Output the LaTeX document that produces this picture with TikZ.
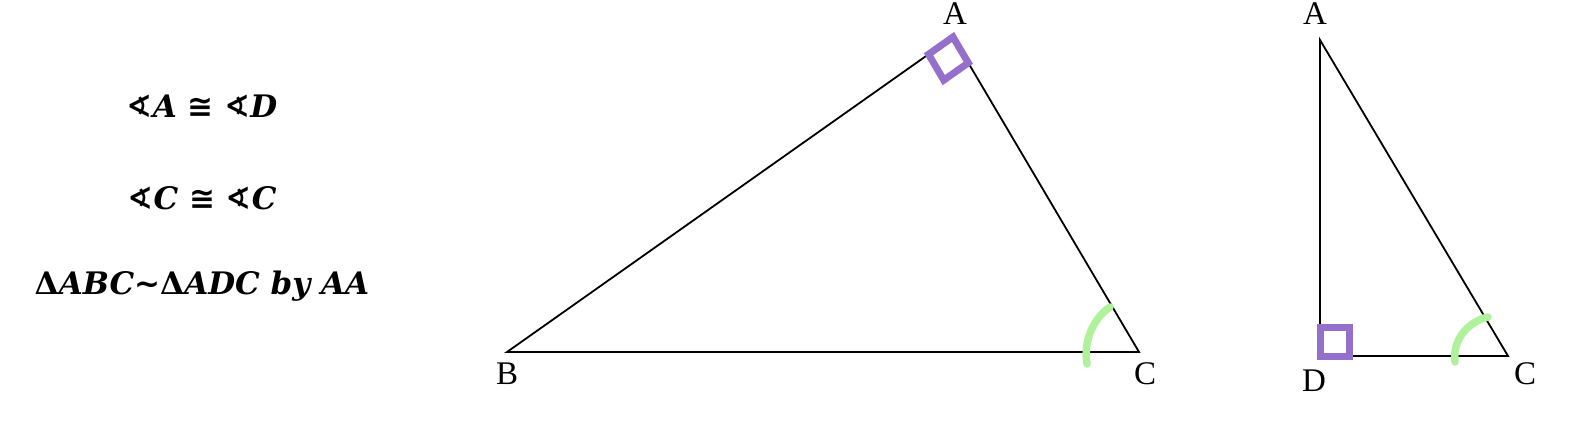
\documentclass[tikz,border=0pt]{standalone}
\usepackage{fontspec}
\setmainfont{Liberation Serif}
\newfontfamily\eqfont{DejaVu Serif}
\newfontfamily\opfont{DejaVu Sans}
\usetikzlibrary{calc}
\definecolor{markpurple}{RGB}{148,112,204}
\definecolor{markgreen}{RGB}{176,242,156}
\newcommand\angsym{{\opfont\bfseries\upshape ∢}}
\newcommand\congsym{{\opfont\bfseries\upshape ≅}}
\newcommand\simsym{{\opfont\bfseries\upshape ∼}}
\newcommand\delsym{{\upshape Δ}}
\begin{document}
\begin{tikzpicture}[x=1pt,y=-1pt,
  edge/.style={draw=black,line width=1.8pt},
  vlabel/.style={font=\fontsize{33}{33}\selectfont,inner sep=0pt},
  rightmark/.style={draw=markpurple,line width=7pt},
  anglemark/.style={draw=markgreen,line width=7.5pt,line cap=round},
  eqline/.style={font=\eqfont\bfseries\itshape\fontsize{31}{31}\selectfont,inner sep=0pt,anchor=base}]
\useasboundingbox (0,0) rectangle (1570,430);
\fill[white] (0,0) rectangle (1570,430);

% statements
\node[eqline] (s1) at (202,118) {\angsym A \congsym{} \angsym D};
\node[eqline] (s2) at (202,210) {\angsym C \congsym{} \angsym C};
\node[eqline] (s3) at (202,294) {\delsym ABC\simsym\delsym ADC by AA};

% big triangle
\coordinate (A) at (953,37);
\coordinate (B) at (507,352);
\coordinate (C) at (1139,352);
\draw[edge] (B) -- (A) -- (C) -- cycle;
\coordinate (Au) at ($(A)!30pt!(B)$);
\coordinate (Av) at ($(A)!30pt!(C)$);
\draw[rightmark] (A) -- (Au) -- ($(Au)+(Av)-(A)$) -- (Av) -- cycle;
\coordinate (g1s) at (1110,307);
\coordinate (g1e) at (1087,364);
\draw[anglemark] (g1s) .. controls (1094,318) and (1083,340) .. (g1e);
\node[vlabel] (lA) at (955,14) {A};
\node[vlabel] (lB) at (507,374) {B};
\node[vlabel] (lC) at (1145,374) {C};

% small triangle
\coordinate (A2) at (1320,40);
\coordinate (D2) at (1320,356);
\coordinate (C2) at (1508,356);
\draw[edge] (A2) -- (D2) -- (C2) -- cycle;
\draw[rightmark] (D2) rectangle ++(29,-29);
\coordinate (g2s) at (1488,317);
\coordinate (g2e) at (1455,362);
\draw[anglemark] (g2s) .. controls (1470,321) and (1452,338) .. (g2e);
\node[vlabel] (lA2) at (1315,14) {A};
\node[vlabel] (lD2) at (1314,381) {D};
\node[vlabel] (lC2) at (1525,374) {C};
\end{tikzpicture}
\end{document}
